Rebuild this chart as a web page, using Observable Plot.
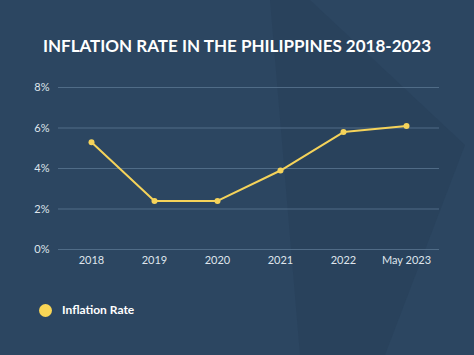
<!DOCTYPE html>
<html>
<head>
<meta charset="utf-8">
<script src="https://cdn.jsdelivr.net/npm/d3@7"></script>
<script src="https://cdn.jsdelivr.net/npm/@observablehq/plot@0.6"></script>
<style>
  html, body { margin: 0; padding: 0; }
  body { width: 474px; height: 355px; background: #2c4661; position: relative; overflow: hidden; font-family: Lato, sans-serif; }
  #deco { position: absolute; left: 0; top: 0; width: 474px; height: 355px; background: #263d56;
          clip-path: polygon(310px 0, 465px 145px, 385px 355px, 300px 355px, 270px 0); opacity: 0.4; }
  #wrap { position: relative; }
  #title { height: 72px; box-sizing: border-box; padding-top: 34px; line-height: 24px; text-align: center;
           color: #ffffff; font-weight: 700; font-size: 17px; letter-spacing: 0; }
  #legend { padding-top: 30px; height: 16px; line-height: 16px; display: flex; align-items: center; padding-left: 39px;
            color: #ffffff; font-weight: 700; font-size: 12px; }
  #legend .dot { width: 13px; height: 13px; border-radius: 50%; background: #f9d656; margin-right: 10px; }
  svg { display: block; }
</style>
</head>
<body>
<div id="deco"></div>
<div id="wrap">
  <div id="title">INFLATION RATE IN THE PHILIPPINES 2018-2023</div>
  <div id="chart"></div>
  <div id="legend"><span class="dot"></span><span>Inflation Rate</span></div>
</div>
<script>
const periods = ["2018", "2019", "2020", "2021", "2022", "May 2023"];
const inflationRate = [5.3, 2.4, 2.4, 3.9, 5.8, 6.1];
const yTicks = [0, 2, 4, 6, 8];

const data = periods.map((p, i) => ({period: p, rate: inflationRate[i]}));

const chart = Plot.plot({
  width: 474,
  height: 200,
  marginTop: 15,
  marginBottom: 23,
  marginLeft: 58,
  marginRight: 35,
  style: {background: "transparent", color: "#dfe5ec", fontFamily: "Lato, sans-serif", fontSize: "11px"},
  x: {type: "point", domain: periods, padding: 0.5, label: null},
  y: {domain: [0, 8], ticks: yTicks, label: null},
  marks: [
    Plot.gridY(yTicks, {stroke: "#5a7591", strokeOpacity: 0.8, strokeWidth: 1}),
    Plot.axisY({ticks: yTicks, tickSize: 0, tickPadding: 9, tickFormat: d => d + "%", fill: "#dfe5ec"}),
    Plot.axisX({tickSize: 0, tickPadding: 7, fill: "#dfe5ec"}),
    Plot.line(data, {x: "period", y: "rate", stroke: "#f5d35a", strokeWidth: 2}),
    Plot.dot(data, {x: "period", y: "rate", fill: "#f5d35a", r: 3})
  ]
});
document.getElementById("chart").appendChild(chart);
</script>
</body>
</html>
